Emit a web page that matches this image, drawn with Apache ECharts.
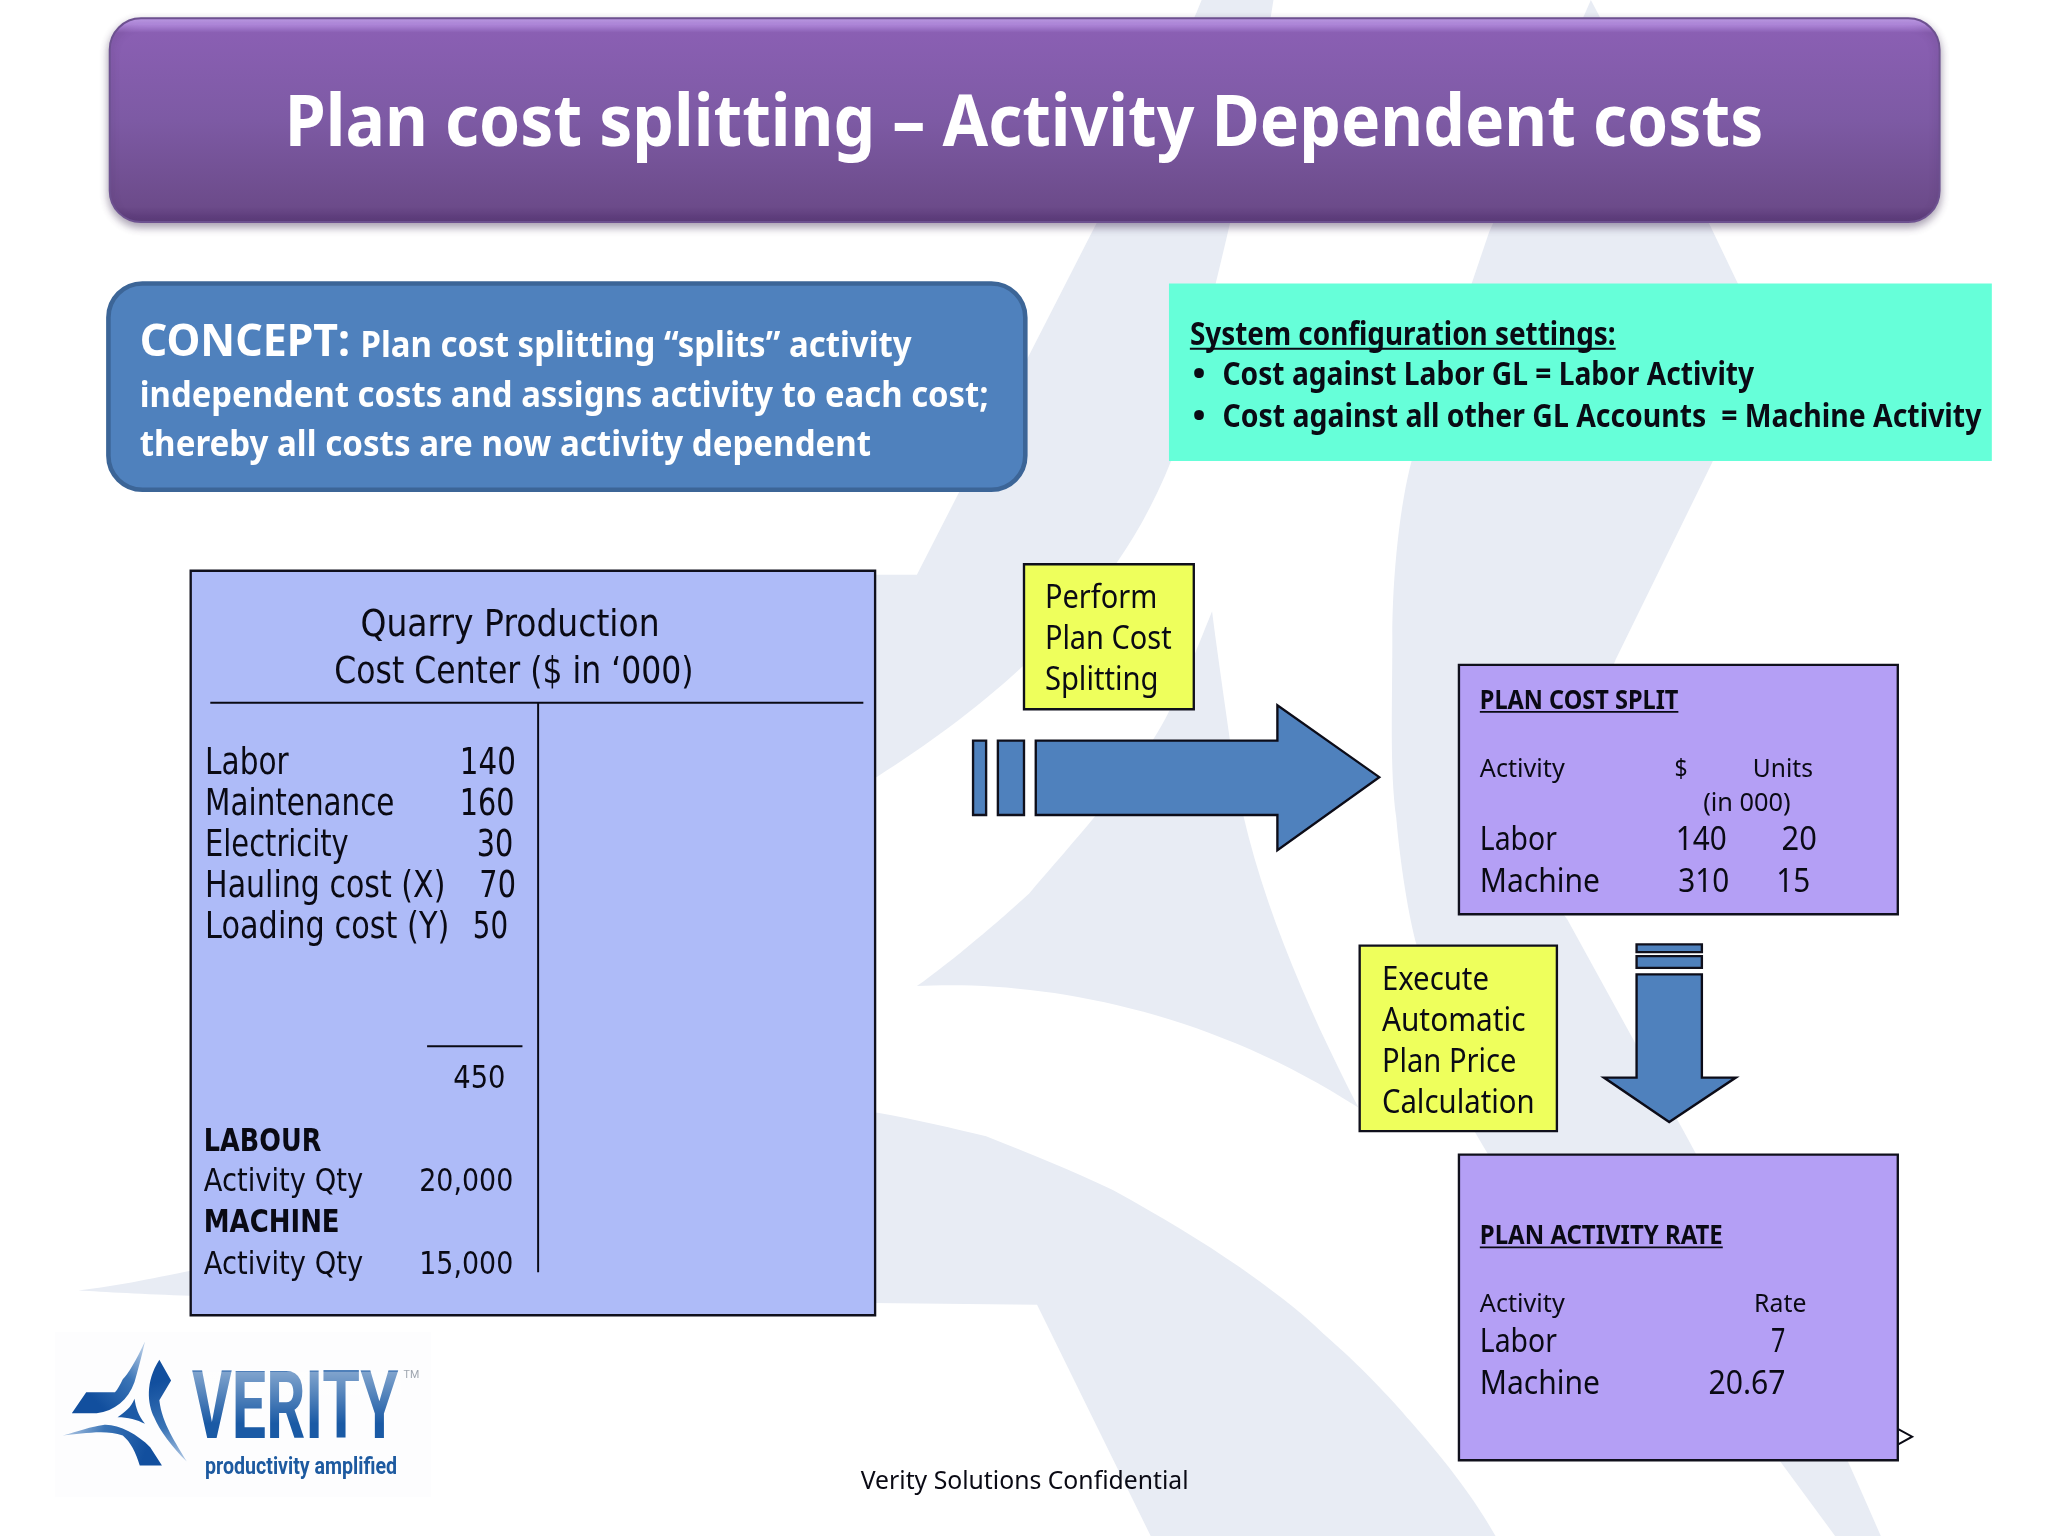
<!DOCTYPE html>
<html>
<head>
<meta charset="utf-8">
<title>Plan cost splitting</title>
<style>html,body{margin:0;padding:0;background:#fff}#main{width:2048px;height:1536px}</style>
<script src="https://cdn.jsdelivr.net/npm/echarts@6/dist/echarts.min.js"></script>
</head>
<body>
<div id="main"></div>
<script>
// slide text and values
const titleText = 'Plan cost splitting – Activity Dependent costs';
const conceptLines = ['independent costs and assigns activity to each cost;', 'thereby all costs are now activity dependent'];
const configItems = ['Cost against Labor GL = Labor Activity', 'Cost against all other GL Accounts  = Machine Activity'];
const costLabels = ['Labor', 'Maintenance', 'Electricity', 'Hauling cost (X)', 'Loading cost (Y)'];
const costValues = ['140', '160', '30', '70', '50'];
const costTotal = '450';
const activityGroups = ['LABOUR', 'MACHINE'];
const activityQty = ['20,000', '15,000'];
const splitNames = ['Labor', 'Machine'];
const splitCost = ['140', '310'];
const splitUnits = ['20', '15'];
const planRates = ['7', '20.67'];
const performSteps = ['Perform', 'Plan Cost', 'Splitting'];
const executeSteps = ['Execute', 'Automatic', 'Plan Price', 'Calculation'];

const SCALE = 2048 / 1568; // layout below is in 1568 wide slide units
const BODY = '"Noto Sans"';
const TAHOMA = '"DejaVu Sans"';
const INK = '#0a0a14';
const measure = document.createElement('canvas').getContext('2d');

function fontOf(size, family, bold) {
    return (bold ? 'bold ' : '') + size + 'px ' + family;
}

// text fitted to the left/right extent it has on the slide
function label(str, x0, x1, y, size, o) {
    o = o || {};
    const family = o.family || BODY;
    const font = fontOf(size, family, o.bold);
    measure.font = font;
    return {
        type: 'text',
        x: x0,
        y: y + (family === 'Roboto' ? 0 : 2), // Noto and DejaVu sit high in their boxes
        scaleX: (x1 - x0) / measure.measureText(str).width,
        silent: true,
        z: o.z || 10,
        style: { text: str, x: 0, y: 0, font: font, fill: o.fill || INK, textAlign: 'left', textVerticalAlign: 'middle' }
    };
}

function rule(x1, y1, x2, y2, w, color) {
    return { type: 'line', silent: true, z: 9, shape: { x1, y1, x2, y2 }, style: { stroke: color || INK, lineWidth: w || 1.5 } };
}

function box(x, y, w, h, fill, lw, r) {
    return {
        type: 'rect', silent: true, z: 5,
        shape: { x, y, width: w, height: h, r: r || 0 },
        style: { fill: fill, stroke: '#10101c', lineWidth: lw || 1.5 }
    };
}

function poly(points, fill, lw) {
    return { type: 'polygon', silent: true, z: 5, shape: { points }, style: { fill: fill, stroke: lw ? '#0c0c18' : null, lineWidth: lw || 0 } };
}

let pathCount = 0;
function path(d, fill, z) {
    const name = 'slidePath' + (pathCount++);
    echarts.graphic.registerShape(name, echarts.graphic.extendPath(d, {}));
    return { type: name, silent: true, z: z || 1, style: { fill: fill } };
}

const PALE = '#e8ecf4';
const ARROW = '#4f81bd';

function watermark() {
    return [
        // upper left blade, clipped flat on its left end
        path('M920 0 L975 0 C955 130 925 240 897 352 C870 420 830 470 782 511 C745 545 710 570 671 595 L650 600 L650 440 L702 440 L725 395 L840 170 C865 110 900 50 920 0 Z', PALE),
        // centre spear
        path('M928 468 C915 500 900 540 883 566 C860 600 842 622 788 684 C765 705 730 735 702 755 C790 750 920 770 1040 848 C1000 770 960 680 945 590 C938 540 932 500 928 468 Z', PALE),
        // right blade running top to bottom
        path('M1218 0 L1140 178 L1081 352 C1072 385 1066 440 1066 489 C1066 540 1064 590 1069 626 C1072 660 1078 700 1085 725 C1095 790 1110 830 1130 868 C1160 920 1190 960 1230 1000 C1280 1050 1330 1085 1363 1119 L1405 1176 L1440 1176 C1390 1060 1340 960 1289 866 L1200 704 L1197 700 C1200 620 1215 560 1237 505 L1311 354 L1345 270 L1331 218 L1309 172 Z', PALE),
        // lower blade with its thin tip left of the cost box
        path('M60 988 C90 985 125 977 146 973 C300 900 500 850 672 852 C700 857 730 864 755 870 C790 884 820 896 852 911 C890 932 920 950 949 970 C970 985 995 1003 1013 1021 C1035 1040 1060 1065 1077 1085 C1095 1105 1125 1140 1145 1176 L881 1176 L794 999 L146 992 C110 991 80 989 60 988 Z', PALE)
    ];
}

function titleBand() {
    return {
        type: 'rect', silent: true, z: 5,
        shape: { x: 84, y: 14, width: 1401, height: 156, r: 24 },
        style: {
            fill: new echarts.graphic.LinearGradient(0, 0, 0, 1, [
                { offset: 0, color: '#c6a3ee' },
                { offset: 0.035, color: '#b68de2' },
                { offset: 0.075, color: '#8a5fb3' },
                { offset: 0.5, color: '#7d5aa4' },
                { offset: 0.92, color: '#6c4b8a' },
                { offset: 0.965, color: '#603f7e' },
                { offset: 1, color: '#5a3b78' }
            ]),
            stroke: '#6d5190', lineWidth: 1.5,
            shadowBlur: 8, shadowOffsetY: 4, shadowColor: 'rgba(60,40,80,0.45)'
        }
    };
}

function logo() {
    const fade = (x0, y0, x1, y1) => new echarts.graphic.LinearGradient(x0, y0, x1, y1, [
        { offset: 0, color: '#b5cbe6' },
        { offset: 0.45, color: '#3a74b6' },
        { offset: 1, color: '#124f9e' }
    ]);
    const t = { type: 'group', silent: true, children: [] };
    t.children.push({ type: 'rect', silent: true, z: 3, shape: { x: 42, y: 1020, width: 288, height: 126 }, style: { fill: '#fdfdfe' } });
    t.children.push(path('M111 1027 C104 1042 98 1052 94 1056 C92 1060 90 1064 88 1066 L66 1066 L55 1082 L74 1082 C88 1080 98 1072 103 1058 C106 1048 109 1036 111 1027 Z', fade(0.9, 0, 0.2, 0.7), 6));
    t.children.push(path('M122 1041 L131 1057 L122 1072 C124 1090 135 1105 143 1119 C132 1108 122 1095 118 1085 C113 1075 111 1058 122 1041 Z', fade(1, 1, 0.4, 0.2), 6));
    t.children.push(path('M103 1071 C100 1078 96 1081 90 1085 C98 1085 105 1087 111 1090 C106 1084 104 1078 103 1071 Z', '#1c5aa6', 6));
    t.children.push(path('M48 1099 C60 1096 70 1092 79 1091 C90 1090 105 1098 115 1108 L124 1122 L107 1122 C104 1112 100 1104 94 1099 C80 1094 62 1098 48 1099 Z', fade(0, 0.2, 0.8, 0.9), 6));
    t.children.push(label('VERITY', 147, 305, 1083, 73, { family: 'Roboto', bold: true, fill: '#1a5aa5', z: 7 }));
    // top of the wordmark fades out
    t.children.push({
        type: 'rect', silent: true, z: 8, shape: { x: 145, y: 1050, width: 162, height: 40 },
        style: { fill: new echarts.graphic.LinearGradient(0, 0, 0, 1, [{ offset: 0, color: 'rgba(255,255,255,0.45)' }, { offset: 1, color: 'rgba(255,255,255,0)' }]) }
    });
    t.children.push(label('productivity amplified', 157, 304, 1124, 19, { family: 'Roboto', bold: true, fill: '#1d5aa0', z: 9 }));
    t.children.push(label('TM', 309, 321, 1053, 9, { family: 'Roboto', fill: '#9fa6b0', z: 9 }));
    return t;
}

function buildSlide() {
    const els = [];
    els.push(...watermark());

    // header
    els.push(titleBand());
    els.push(label(titleText, 218, 1350, 94, 55, { bold: true, fill: '#fff' }));

    // concept box
    const concept = box(83, 217, 702, 158, ARROW, 3.5, 26);
    concept.style.stroke = '#3c6597';
    els.push(concept);
    els.push(label('CONCEPT:', 107, 268, 261, 34, { bold: true, fill: '#fff' }));
    els.push(label('Plan cost splitting “splits” activity', 276, 698, 263, 28, { bold: true, fill: '#fff' }));
    els.push(label(conceptLines[0], 107, 757, 302, 28, { bold: true, fill: '#fff' }));
    els.push(label(conceptLines[1], 107, 667, 339, 28, { bold: true, fill: '#fff' }));

    // configuration box
    els.push({ type: 'rect', silent: true, z: 5, shape: { x: 895, y: 217, width: 630, height: 136 }, style: { fill: '#66ffd9' } });
    els.push(label('System configuration settings:', 911, 1237, 255, 24, { bold: true }));
    els.push(rule(911, 267, 1237, 267, 1.6));
    const cfgRight = [1343, 1517];
    configItems.forEach((s, i) => {
        const y = 286 + i * 32;
        els.push(label('•', 913, 923, y, 24, { bold: true }));
        els.push(label(s, 936, cfgRight[i], y, 24, { bold: true }));
    });

    // cost center T account
    els.push(box(146, 437, 524, 570, '#aebbf8', 1.8));
    els.push(label('Quarry Production', 276, 505, 478, 28, { family: TAHOMA }));
    els.push(label('Cost Center ($ in ‘000)', 256, 531, 514, 28, { family: TAHOMA }));
    els.push(rule(161, 538, 661, 538, 1.5));
    els.push(rule(412, 538, 412, 974, 1.5));
    const costRight = [221, 302, 267, 341, 344];
    const valLeft = [352, 352, 365, 367, 362];
    const valRight = [395, 394, 393, 395, 389];
    costLabels.forEach((s, i) => {
        const y = 583 + i * 31.5;
        els.push(label(s, 157, costRight[i], y, 28, { family: TAHOMA }));
        els.push(label(costValues[i], valLeft[i], valRight[i], y, 28, { family: TAHOMA }));
    });
    els.push(rule(327, 801, 400, 801, 1.5));
    els.push(label(costTotal, 347, 387, 825, 24, { family: TAHOMA }));
    const groupRight = [246, 260];
    activityGroups.forEach((s, i) => {
        els.push(label(s, 156, groupRight[i], 873 + i * 62, 24, { family: TAHOMA, bold: true }));
        els.push(label('Activity Qty', 156, 278, 904 + i * 63, 24, { family: TAHOMA }));
        els.push(label(activityQty[i], 321, 393, 904 + i * 63, 24, { family: TAHOMA }));
    });

    // step 1 note and arrow
    els.push(box(784, 432, 130, 111, '#eeff5c', 1.8));
    const performRight = [886, 897, 887];
    performSteps.forEach((s, i) => els.push(label(s, 800, performRight[i], 456 + i * 31.5, 25)));
    els.push(box(745, 567, 10, 57, ARROW, 1.8));
    els.push(box(764, 567, 20, 57, ARROW, 1.8));
    els.push(poly([[793, 567], [978, 567], [978, 540], [1056, 595], [978, 651], [978, 624], [793, 624]], ARROW, 1.8));

    // plan cost split
    els.push(box(1117, 509, 336, 191, '#b49ff5', 1.8));
    els.push(label('PLAN COST SPLIT', 1133, 1285, 535, 20, { bold: true }));
    els.push(rule(1133, 545, 1285, 545, 1.4));
    els.push(label('Activity', 1133, 1198, 587, 20));
    els.push(label('$', 1282, 1292, 587, 20));
    els.push(label('Units', 1342, 1388, 587, 20));
    els.push(label('(in 000)', 1304, 1371, 613, 20));
    const splitNameRight = [1192, 1225];
    const splitCostX = [[1283, 1322], [1285, 1324]];
    const splitUnitX = [[1364, 1391], [1360, 1386]];
    splitNames.forEach((s, i) => {
        const y = 642 + i * 32;
        els.push(label(s, 1133, splitNameRight[i], y, 25));
        els.push(label(splitCost[i], splitCostX[i][0], splitCostX[i][1], y, 25));
        els.push(label(splitUnits[i], splitUnitX[i][0], splitUnitX[i][1], y, 25));
    });

    // step 2 note and arrow
    els.push(box(1041, 724, 151, 142, '#eeff5c', 1.8));
    const executeRight = [1140, 1168, 1161, 1175];
    executeSteps.forEach((s, i) => els.push(label(s, 1058, executeRight[i], 749 + i * 31.3, 25)));
    els.push(box(1253, 723, 50, 6, ARROW, 1.8));
    els.push(box(1253, 732, 50, 9, ARROW, 1.8));
    els.push(poly([[1253, 746], [1303, 746], [1303, 825], [1329, 825], [1278, 859], [1228, 825], [1253, 825]], ARROW, 1.8));

    // plan activity rate
    els.push(box(1117, 884, 336, 234, '#b49ff5', 1.8));
    els.push(label('PLAN ACTIVITY RATE', 1133, 1319, 945, 20, { bold: true }));
    els.push(rule(1133, 955, 1319, 955, 1.4));
    els.push(label('Activity', 1133, 1198, 997, 20));
    els.push(label('Rate', 1343, 1383, 997, 20));
    const rateX = [[1356, 1367], [1308, 1367]];
    splitNames.forEach((s, i) => {
        const y = 1026 + i * 32;
        els.push(label(s, 1133, splitNameRight[i], y, 25));
        els.push(label(planRates[i], rateX[i][0], rateX[i][1], y, 25));
    });
    els.push({ type: 'polyline', silent: true, z: 4, shape: { points: [[1453, 1094], [1464, 1100], [1453, 1106]] }, style: { fill: null, stroke: INK, lineWidth: 1.5 } });

    els.push(logo());
    els.push(label('Verity Solutions Confidential', 659, 910, 1132, 20));
    return els;
}

const chart = echarts.init(document.getElementById('main'), null, { renderer: 'canvas' });
chart.setOption({
    backgroundColor: '#fff',
    animation: false,
    graphic: [{ type: 'group', scaleX: SCALE, scaleY: SCALE, x: 0, y: 0, children: buildSlide() }]
});
</script>
</body>
</html>
